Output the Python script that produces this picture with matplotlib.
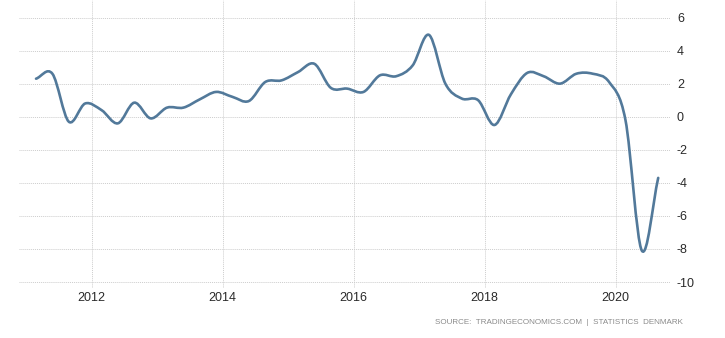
import matplotlib
matplotlib.use("Agg")
import matplotlib.pyplot as plt
from matplotlib.path import Path
from matplotlib.patches import PathPatch


# Denmark GDP annual growth rate (%), quarterly
quarters = [f"{y}Q{q}" for y in range(2011, 2021) for q in range(1, 5)][:39]
growth = [2.3, 2.6, -0.3, 0.8, 0.4, -0.4, 0.85, -0.1, 0.55, 0.55,
          1.05, 1.5, 1.2, 0.95, 2.1, 2.2, 2.7, 3.2, 1.75, 1.7,
          1.5, 2.5, 2.45, 3.1, 4.95, 2.0, 1.1, 1.0, -0.5, 1.35,
          2.65, 2.45, 2.0, 2.6, 2.6, 2.1, -0.2, -8.1, -3.7]
year_ticks = [2012, 2014, 2016, 2018, 2020]
value_ticks = [-10, -8, -6, -4, -2, 0, 2, 4, 6]
source_text = "SOURCE:  TRADINGECONOMICS.COM  |  STATISTICS  DENMARK"

LINE_COLOR = "#52799a"
GRID_COLOR = "#cdcdcd"
TEXT_COLOR = "#2a2a2a"


def quarter_to_year(label):
    # place each quarter roughly mid-period
    year, q = label.split("Q")
    return int(year) + (int(q) - 1) * 0.25 + 0.15


def spline_path(xs, ys):
    """Catmull-Rom curve through every point, as cubic Bezier segments."""
    n = len(xs)

    def tangent(i):
        a = max(i - 1, 0)
        b = min(i + 1, n - 1)
        return (ys[b] - ys[a]) / (xs[b] - xs[a])

    verts = [(xs[0], ys[0])]
    codes = [Path.MOVETO]
    for i in range(1, n):
        dx = xs[i] - xs[i - 1]
        m0, m1 = tangent(i - 1), tangent(i)
        verts += [(xs[i - 1] + dx / 3, ys[i - 1] + m0 * dx / 3),
                  (xs[i] - dx / 3, ys[i] - m1 * dx / 3),
                  (xs[i], ys[i])]
        codes += [Path.CURVE4] * 3
    return Path(verts, codes)


x = [quarter_to_year(q) for q in quarters]

fig = plt.figure(figsize=(7.25, 3.38), dpi=100)
ax = fig.add_axes([19 / 725, 50 / 338, (670 - 19) / 725, 288 / 338])

ax.set_xlim(2010.89, 2020.83)
ax.set_ylim(-10.36, 7.06)

ax.add_patch(PathPatch(spline_path(x, growth), facecolor="none",
                       edgecolor=LINE_COLOR, linewidth=1.9,
                       capstyle="round", joinstyle="round", zorder=3))

ax.set_xticks(year_ticks)
ax.set_xticklabels([str(y) for y in year_ticks])
ax.set_yticks(value_ticks)
ax.set_yticklabels([str(v) for v in value_ticks])
ax.yaxis.tick_right()

font = ["Liberation Sans", "DejaVu Sans"]
ax.tick_params(axis="both", length=0, colors=TEXT_COLOR, labelsize=9)
ax.tick_params(axis="x", pad=3)
ax.tick_params(axis="y", pad=5)
for lbl in ax.get_xticklabels() + ax.get_yticklabels():
    lbl.set_family(font)

ax.grid(True, color=GRID_COLOR, linestyle=(0, (1, 1)), linewidth=0.7)
for spine in ax.spines.values():
    spine.set_visible(False)

fig.text(683 / 725, 1 - 323 / 338, source_text, ha="right", va="center",
         fontsize=5.8, color="#8a8a8a", family=font)

fig.savefig("out.png", dpi=100, facecolor="white")
